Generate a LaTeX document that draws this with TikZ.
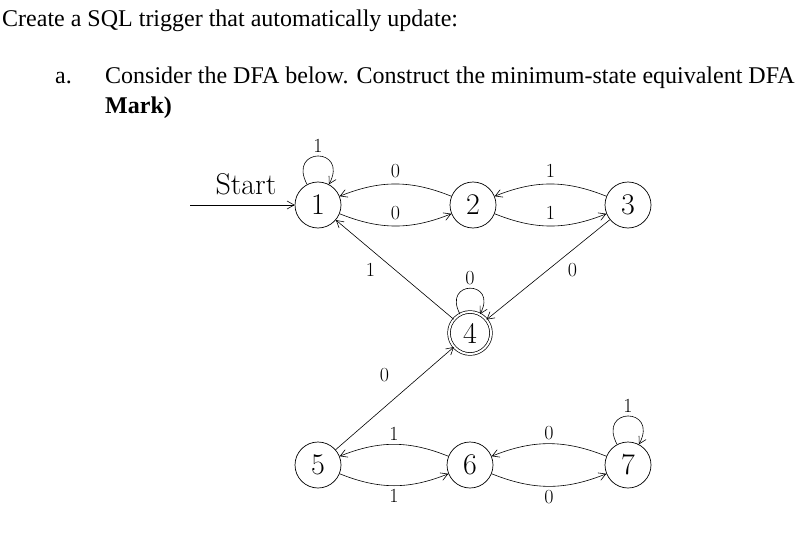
\documentclass[tikz,border=0pt]{standalone}
\usepackage{fontspec}
\newfontfamily\tnr{Liberation Serif}
\usetikzlibrary{arrows.meta}
\begin{document}
\begin{tikzpicture}[x=1pt,y=-1pt,
  st/.style={circle,draw,line width=0.7pt,minimum size=46pt,inner sep=0pt,font=\fontsize{30}{30}\selectfont},
  acc/.style={st,double,double distance=2pt,minimum size=42pt},
  tr/.style={-{Straight Barb[length=7pt,width=8pt]},line width=0.6pt},
  lp/.style={tr,out=118,in=62,looseness=5},
  lb/.style={font=\fontsize{20}{20}\selectfont},
  txt/.style={anchor=base west,inner sep=0pt,font=\tnr\fontsize{24}{24}\selectfont}]
\useasboundingbox (0,0) rectangle (802,540);
\node[txt] (t1) at (2,27) {Create a SQL trigger that automatically update:};
\node[txt] (t2) at (55,84) {a.};
\node[txt] (t3) at (105,84) {Consider the DFA below. Construct the minimum-state equivalent DFA};
\node[txt] (t4) at (105,114) {\bfseries Mark)};
\node[st] (n1) at (318,205) {1};
\node[st] (n2) at (473,205) {2};
\node[st] (n3) at (628,205) {3};
\node[acc] (n4) at (470,333) {4};
\node[st] (n5) at (318,465) {5};
\node[st] (n6) at (470,465) {6};
\node[st] (n7) at (628,465) {7};
\coordinate (s) at (190,205);
\node[font=\fontsize{30}{30}\selectfont] (start) at (246,184) {Start};
\draw[tr] (s) -- (n1);
\draw[tr] (n1) to[bend right=22] node[lb,above=3pt] {0} (n2);
\draw[tr] (n2) to[bend right=22] node[lb,above=3pt] {0} (n1);
\draw[tr] (n3) to[bend right=22] node[lb,above=3pt] {1} (n2);
\draw[tr] (n2) to[bend right=22] node[lb,above=3pt] {1} (n3);
\draw[lp] (n1) to node[lb,above] {1} (n1);
\draw[lp] (n4) to node[lb,above] {0} (n4);
\draw[lp] (n7) to node[lb,above] {1} (n7);
\draw[tr] (n4) -- node[lb,left=16pt] {1} (n1);
\draw[tr] (n3) -- node[lb,right=16pt] {0} (n4);
\draw[tr] (n5) -- node[lb,above left=8pt,pos=0.55] {0} (n4);
\draw[tr] (n6) to[bend right=22] node[lb,above] {1} (n5);
\draw[tr] (n5) to[bend right=22] node[lb,below] {1} (n6);
\draw[tr] (n7) to[bend right=22] node[lb,above] {0} (n6);
\draw[tr] (n6) to[bend right=22] node[lb,below] {0} (n7);
\end{tikzpicture}
\end{document}
